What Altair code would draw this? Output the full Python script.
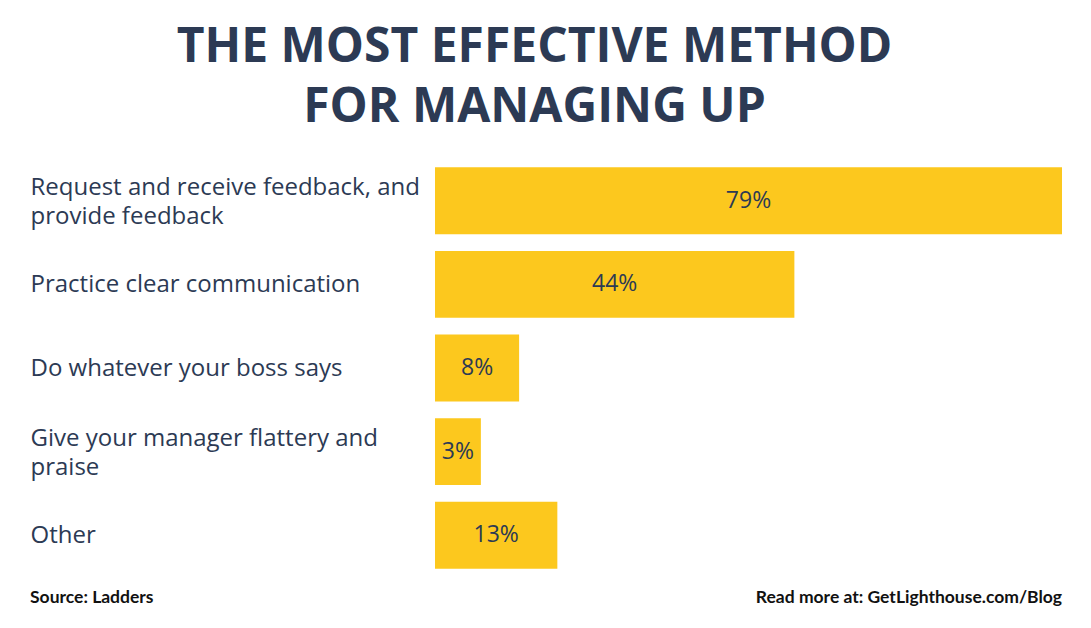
import altair as alt
import pandas as pd

categories = [
    "Request and receive feedback, and\nprovide feedback",
    "Practice clear communication",
    "Do whatever your boss says",
    "Give your manager flattery and\npraise",
    "Other",
]
values = [79, 44, 8, 3, 13]
labels = ["79%", "44%", "8%", "3%", "13%"]
title_lines = ["THE MOST EFFECTIVE METHOD", "FOR MANAGING UP"]
source_text = ["Source: Ladders"]
more_text = ["Read more at: GetLighthouse.com/Blog"]

BASE = -3
NAVY = "#2c3a54"
YELLOW = "#fcc81e"

df = pd.DataFrame({"cat": categories, "pct": values, "label": labels})

xscale = alt.Scale(domain=[BASE, 79], nice=False, zero=False)
yenc = alt.Y(
    "cat:N",
    sort=categories,
    scale=alt.Scale(paddingInner=0.2, paddingOuter=0.1),
    axis=alt.Axis(
        title=None,
        domain=False,
        ticks=False,
        labelAlign="left",
        labelPadding=405,
        labelLimit=420,
        labelFont="Open Sans",
        labelFontSize=24,
        labelColor=NAVY,
        labelLineHeight=29,
        labelBaseline="middle",
        labelOffset={
            "condition": {"test": "indexof(datum.value, '\\n') >= 0", "value": -13},
            "value": 1,
        },
        labelExpr="split(datum.label, '\\n')",
    ),
)

base = alt.Chart(df)

bars = base.mark_bar(color=YELLOW).encode(
    x=alt.X("pct:Q", scale=xscale, axis=None),
    x2=alt.datum(BASE),
    y=yenc,
)

text = base.transform_calculate(mid=f"(datum.pct + ({BASE})) / 2").mark_text(
    font="Open Sans", fontSize=23, color=NAVY, align="center", baseline="middle"
).encode(
    x=alt.X("mid:Q", scale=xscale, axis=None),
    y=alt.Y("cat:N", sort=categories),
    text="label:N",
)

src = alt.Chart(pd.DataFrame({"t": source_text})).mark_text(
    font="Lato", fontSize=17.5, fontWeight="bold", color="#111111",
    align="left", baseline="alphabetic"
).encode(x=alt.value(-405), y=alt.value(444), text="t:N")

more = alt.Chart(pd.DataFrame({"t": more_text})).mark_text(
    font="Lato", fontSize=17.5, fontWeight="bold", color="#111111",
    align="right", baseline="alphabetic"
).encode(x=alt.value(627), y=alt.value(444), text="t:N")

chart = alt.layer(bars, text, src, more).properties(
    width=627,
    height=418,
    autosize=alt.AutoSizeParams(type="none"),
    padding={"left": 427, "top": 151, "right": 21, "bottom": 43},
    title=alt.TitleParams(
        text=title_lines,
        anchor="middle",
        dx=-214,
        offset=27,
        font="Open Sans",
        fontSize=48,
        fontWeight="bold",
        color=NAVY,
        lineHeight=60,
    ),
    background="#ffffff",
).configure_view(stroke=None)

chart.save("out.html", embed_options={"renderer": "svg", "actions": False})
